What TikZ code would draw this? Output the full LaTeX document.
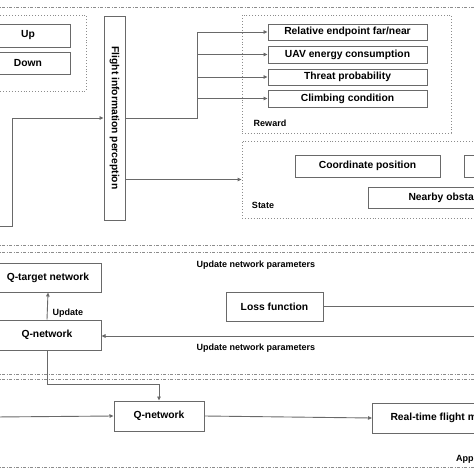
\documentclass[tikz,border=0pt]{standalone}
\usepackage{fontspec}
\setmainfont{Liberation Sans}
\usetikzlibrary{arrows.meta}
\definecolor{ln}{RGB}{105,105,105}
\definecolor{dl}{RGB}{140,140,140}
\tikzset{
  box/.style={draw=ln, line width=1pt, inner sep=0pt, font=\fontsize{10.3}{12}\selectfont\bfseries, text=black},
  grp/.style={draw=dl, line width=0.9pt, dotted, inner sep=0pt},
  lbl/.style={inner sep=0pt, font=\fontsize{9}{11}\selectfont\bfseries, text=black},
  sep/.style={draw=dl, line width=0.8pt, dash pattern=on 3pt off 1.5pt on 1pt off 1.5pt},
  con/.style={draw=ln, line width=0.9pt},
  arr/.style={con, -{Triangle[length=4pt,width=3.5pt]}}
}
\begin{document}
\begin{tikzpicture}[x=1pt,y=-1pt]
\useasboundingbox (0,0) rectangle (474,474);
\clip (0,0) rectangle (474,474);
% separators
\coordinate (s1a) at (-5,7);   \coordinate (s1b) at (480,7);
\coordinate (s2a) at (-5,245); \coordinate (s2b) at (480,245);
\coordinate (s3a) at (-5,252); \coordinate (s3b) at (480,252);
\coordinate (s4a) at (-5,374); \coordinate (s4b) at (480,374);
\coordinate (s5a) at (-5,379); \coordinate (s5b) at (480,379);
\coordinate (s6a) at (-5,467); \coordinate (s6b) at (480,467);
\draw[sep] (s1a) -- (s1b);
\draw[sep] (s2a) -- (s2b);
\draw[sep] (s3a) -- (s3b);
\draw[sep] (s4a) -- (s4b);
\draw[sep] (s5a) -- (s5b);
\draw[sep] (s6a) -- (s6b);
% action group
\node[grp, minimum width=106pt, minimum height=76pt] (act) at (33,53) {};
\node[box, minimum width=84pt, minimum height=23pt] (up) at (28,35.5) {Up};
\node[box, minimum width=84pt, minimum height=22pt] (down) at (28,63) {Down};
% perception
\node[box, minimum width=21pt, minimum height=204pt] (perc) at (114.5,118) {};
\node[lbl, rotate=-90, font=\fontsize{10.3}{12}\selectfont\bfseries] (perct) at (perc.center) {Flight information perception};
% reward group
\node[grp, minimum width=209pt, minimum height=118pt] (rew) at (346.5,74) {};
\node[lbl] (rewl) at (270,123) {Reward};
\node[box, minimum width=159pt, minimum height=16pt] (r1) at (347.5,32) {Relative endpoint far/near};
\node[box, minimum width=159pt, minimum height=17pt] (r2) at (347.5,54.5) {UAV energy consumption};
\node[box, minimum width=159pt, minimum height=16pt] (r3) at (347.5,77) {Threat probability};
\node[box, minimum width=159pt, minimum height=17pt] (r4) at (347.5,98.5) {Climbing condition};
% state group
\node[grp, minimum width=258pt, minimum height=77pt] (st) at (371,179.5) {};
\node[lbl] (stl) at (263,205) {State};
\node[box, minimum width=145pt, minimum height=22pt] (coord) at (367.5,166) {Coordinate position};
\node[box, minimum width=80pt, minimum height=22pt] (sx) at (504,166) {};
\node[box, anchor=west, inner xsep=40pt, minimum height=21pt] (obs) at (368,197.5) {Nearby obsta};
% left input path
\coordinate (in1) at (-5,226);
\coordinate (k1) at (12,226);
\coordinate (k2) at (12,118);
\draw[arr] (in1) -- (k1) -- (k2) -- (perc.west);
% perception to reward
\coordinate (j0) at (197,118);
\coordinate (j1) at (197,32);
\coordinate (j2) at (197,54.5);
\coordinate (j3) at (197,77);
\coordinate (j4) at (197,98.5);
\draw[con] (perc.east) -- (j0) -- (j1);
\draw[arr] (j1) -- (r1.west);
\draw[arr] (j2) -- (r2.west);
\draw[arr] (j3) -- (r3.west);
\draw[arr] (j4) -- (r4.west);
% perception to state
\coordinate (p2) at (125,179.5);
\draw[arr] (p2) -- (st.west);
% training section
\node[box, minimum width=106pt, minimum height=29pt] (qt) at (48,277.5) {Q-target network};
\node[box, minimum width=108pt, minimum height=30pt] (qn) at (47,335) {Q-network};
\draw[arr] (qn.north) -- (qt.south);
\node[lbl] (upd) at (68,313) {Update};
\node[lbl] (unp1) at (256,265) {Update network parameters};
\node[box, minimum width=97pt, minimum height=29pt] (loss) at (274.5,306.5) {Loss function};
\coordinate (le) at (480,306.5);
\draw[con] (loss.east) -- (le);
\coordinate (re) at (480,336);
\draw[arr] (re) -- (qn.east |- re);
\node[lbl] (unp2) at (256,348) {Update network parameters};
% application section
\node[box, minimum width=90pt, minimum height=30pt] (q2) at (159,416) {Q-network};
\coordinate (b1) at (47,384);
\coordinate (b2) at (159,384);
\draw[arr] (qn.south) -- (b1) -- (b2) -- (q2.north);
\coordinate (in2) at (-5,417);
\draw[arr] (in2) -- (q2.west);
\node[box, anchor=west, inner xsep=18pt, minimum height=30pt] (rt) at (372,418) {Real-time flight m};
\draw[arr] (q2.east) -- (rt.west);
\node[lbl, anchor=west] (app) at (456,459) {App};
\end{tikzpicture}
\end{document}
